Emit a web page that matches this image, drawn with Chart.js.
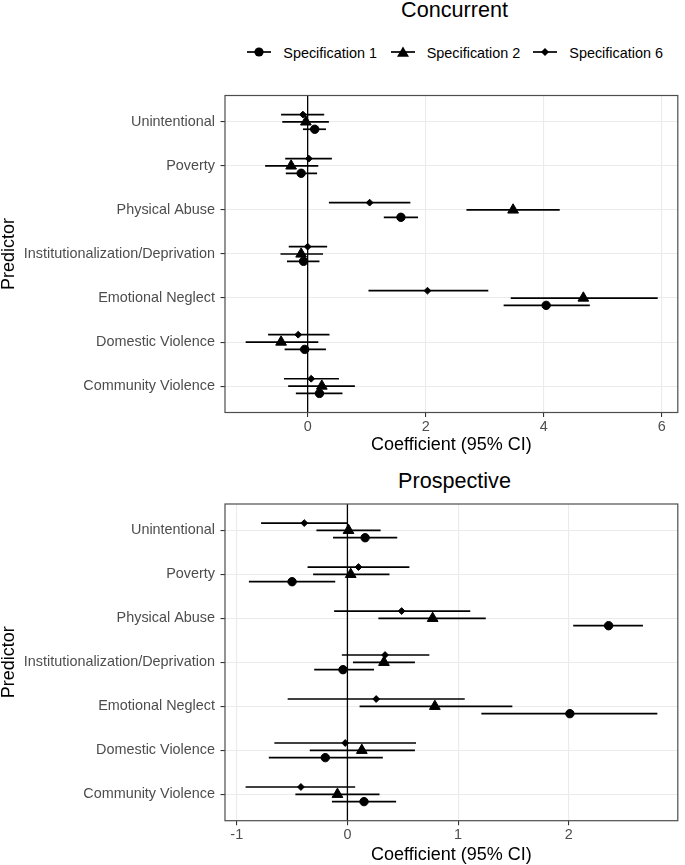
<!DOCTYPE html>
<html>
<head>
<meta charset="utf-8">
<script src="https://cdn.jsdelivr.net/npm/chart.js@4.4.1/dist/chart.umd.min.js"></script>
<style>
html,body{margin:0;padding:0;background:#fff;overflow:hidden;}
body{width:685px;height:865px;position:relative;font-family:"Liberation Sans",Arial,sans-serif;}
.abs{position:absolute;white-space:nowrap;line-height:1;color:#000;}
.ttl{font-size:21.6px;text-align:center;left:225px;width:459px;}
.leg{font-size:14.4px;}
.ico{position:absolute;}
#w1{position:absolute;left:0;top:0;width:685px;height:465px;}
#w2{position:absolute;left:0;top:465px;width:685px;height:400px;}
</style>
</head>
<body>
<div class="abs ttl" style="top:-1px;">Concurrent</div>
<svg class="ico" style="left:247px;top:45px" width="24" height="14"><line x1="0" y1="7" x2="24" y2="7" stroke="#000" stroke-width="1.7"/><circle cx="12" cy="7" r="4.6" fill="#000"/></svg>
<div class="abs leg" style="left:283.3px;top:46px;">Specification 1</div>
<svg class="ico" style="left:391px;top:45px" width="24" height="14"><line x1="0" y1="7" x2="24" y2="7" stroke="#000" stroke-width="1.7"/><polygon points="12,1.5 18,11.8 6,11.8" fill="#000"/></svg>
<div class="abs leg" style="left:426.7px;top:46px;">Specification 2</div>
<svg class="ico" style="left:533px;top:45px" width="24" height="14"><line x1="0" y1="7" x2="24" y2="7" stroke="#000" stroke-width="1.7"/><polygon points="12,3 16,7 12,11 8,7" fill="#000"/></svg>
<div class="abs leg" style="left:569.3px;top:46px;">Specification 6</div>
<div class="abs ttl" style="top:470px;">Prospective</div>
<div id="w1"><canvas id="c1" width="685" height="465"></canvas></div>
<div id="w2"><canvas id="c2" width="685" height="400"></canvas></div>
<script>
// ---------- DATA ----------
const predictors = ["Unintentional","Poverty","Physical Abuse","Institutionalization/Deprivation","Emotional Neglect","Domestic Violence","Community Violence"];
const specNames = ["Specification 1","Specification 2","Specification 6"];

// Concurrent
const concSpec1Est = [0.12, -0.11, 1.58, -0.07, 4.04, -0.05, 0.20];
const concSpec1Lo  = [-0.08, -0.37, 1.29, -0.35, 3.32, -0.39, -0.20];
const concSpec1Hi  = [0.31, 0.16, 1.87, 0.20, 4.78, 0.31, 0.59];
const concSpec2Est = [-0.03, -0.28, 3.48, -0.11, 4.67, -0.45, 0.24];
const concSpec2Lo  = [-0.43, -0.72, 2.69, -0.46, 3.44, -1.05, -0.33];
const concSpec2Hi  = [0.36, 0.18, 4.27, 0.26, 5.93, 0.18, 0.80];
const concSpec6Est = [-0.08, 0.02, 1.05, 0.00, 2.03, -0.16, 0.06];
const concSpec6Lo  = [-0.45, -0.38, 0.36, -0.32, 1.03, -0.67, -0.40];
const concSpec6Hi  = [0.28, 0.41, 1.74, 0.33, 3.06, 0.37, 0.53];

// Prospective
const prosSpec1Est = [0.16, -0.50, 2.36, -0.04, 2.01, -0.20, 0.15];
const prosSpec1Lo  = [-0.13, -0.89, 2.04, -0.30, 1.21, -0.71, -0.14];
const prosSpec1Hi  = [0.45, -0.11, 2.67, 0.24, 2.80, 0.32, 0.44];
const prosSpec2Est = [0.01, 0.03, 0.77, 0.33, 0.79, 0.13, -0.09];
const prosSpec2Lo  = [-0.28, -0.31, 0.28, 0.05, 0.11, -0.34, -0.47];
const prosSpec2Hi  = [0.30, 0.38, 1.25, 0.61, 1.49, 0.61, 0.29];
const prosSpec6Est = [-0.39, 0.10, 0.49, 0.34, 0.26, -0.02, -0.42];
const prosSpec6Lo  = [-0.78, -0.36, -0.12, -0.05, -0.54, -0.66, -0.92];
const prosSpec6Hi  = [0.00, 0.56, 1.11, 0.74, 1.06, 0.62, 0.07];

const xTicksConc = [0, 2, 4, 6];
const xTicksPros = [-1, 0, 1, 2];
const axisTitleX = "Coefficient (95% CI)";
const axisTitleY = "Predictor";

// ---------- RENDER ----------
const FONT = "'Liberation Sans', Arial, sans-serif";
const DODGE = 1/6;

function series(est, lo, hi, off, name, style, radius) {
  return {
    label: name,
    data: est.map((v, i) => ({x: v, y: i + 1 + off})),
    ci: {lo: lo, hi: hi},
    pointStyle: style,
    pointRadius: radius,
    pointHoverRadius: radius,
    backgroundColor: '#000',
    borderColor: '#000',
    borderWidth: 1,
    showLine: false
  };
}

const panelPlugin = {
  id: 'panel',
  beforeDatasetsDraw(chart) {
    const {ctx, chartArea: a, scales: {x, y}} = chart;
    ctx.save();
    // zero reference line
    const x0 = x.getPixelForValue(0);
    ctx.strokeStyle = '#000';
    ctx.lineWidth = 1.3;
    ctx.beginPath();
    ctx.moveTo(x0, a.top);
    ctx.lineTo(x0, a.bottom);
    ctx.stroke();
    // CI bars
    ctx.lineWidth = 1.7;
    chart.data.datasets.forEach(ds => {
      ds.data.forEach((p, i) => {
        const py = y.getPixelForValue(p.y);
        ctx.beginPath();
        ctx.moveTo(x.getPixelForValue(ds.ci.lo[i]), py);
        ctx.lineTo(x.getPixelForValue(ds.ci.hi[i]), py);
        ctx.stroke();
      });
    });
    ctx.restore();
  },
  afterDraw(chart) {
    const {ctx, chartArea: a} = chart;
    ctx.save();
    ctx.strokeStyle = '#4d4d4d';
    ctx.lineWidth = 1.2;
    ctx.strokeRect(a.left, a.top, a.right - a.left, a.bottom - a.top);
    ctx.restore();
  }
};

function makeChart(id, datasets, xmin, xmax, xticks, padTop, xAxisH, xTitlePad) {
  return new Chart(document.getElementById(id), {
    type: 'scatter',
    data: {datasets: datasets},
    plugins: [panelPlugin],
    options: {
      responsive: false,
      animation: false,
      devicePixelRatio: 1,
      events: [],
      layout: {padding: {top: padTop, right: 1, bottom: 0, left: 0}},
      plugins: {legend: {display: false}, tooltip: {enabled: false}, title: {display: false}},
      scales: {
        x: {
          type: 'linear', min: xmin, max: xmax,
          afterBuildTicks(s) { s.ticks = xticks.map(v => ({value: v})); },
          afterFit(s) { s.height = xAxisH; },
          grid: {color: '#ebebeb', lineWidth: 1.1, tickColor: '#333333', tickLength: 4.5, tickWidth: 1.1},
          border: {display: false},
          ticks: {color: '#4d4d4d', font: {family: FONT, size: 14.4}, padding: 1.5, maxRotation: 0, callback: v => String(v)},
          title: {display: true, text: axisTitleX, color: '#000', font: {family: FONT, size: 18, lineHeight: 1.0}, padding: {top: 0, bottom: xTitlePad}}
        },
        y: {
          type: 'linear', min: 0.4, max: 7.6, reverse: true,
          afterBuildTicks(s) { s.ticks = predictors.map((p, i) => ({value: i + 1})); },
          afterFit(s) { s.width = 225; },
          grid: {color: '#ebebeb', lineWidth: 1.1, tickColor: '#333333', tickLength: 4.5, tickWidth: 1.1},
          border: {display: false},
          ticks: {color: '#4d4d4d', font: {family: FONT, size: 14.4}, padding: 5.5, autoSkip: false,
                  callback: v => predictors[Math.round(v) - 1]},
          title: {display: true, text: axisTitleY, color: '#000', font: {family: FONT, size: 18, lineHeight: 1.0}, padding: {top: 0, bottom: 0}}
        }
      }
    }
  });
}

makeChart('c1', [
  series(concSpec1Est, concSpec1Lo, concSpec1Hi, DODGE, specNames[0], 'circle', 4.2),
  series(concSpec2Est, concSpec2Lo, concSpec2Hi, 0, specNames[1], 'triangle', 6.2),
  series(concSpec6Est, concSpec6Lo, concSpec6Hi, -DODGE, specNames[2], 'rectRot', 3.4)
], -1.40, 6.27, xTicksConc, 95.5, 52.5, 11);

makeChart('c2', [
  series(prosSpec1Est, prosSpec1Lo, prosSpec1Hi, DODGE, specNames[0], 'circle', 4.2),
  series(prosSpec2Est, prosSpec2Lo, prosSpec2Hi, 0, specNames[1], 'triangle', 6.2),
  series(prosSpec6Est, prosSpec6Lo, prosSpec6Hi, -DODGE, specNames[2], 'rectRot', 3.4)
], -1.106, 2.985, xTicksPros, 39, 44.3, 1.3);
</script>
</body>
</html>
